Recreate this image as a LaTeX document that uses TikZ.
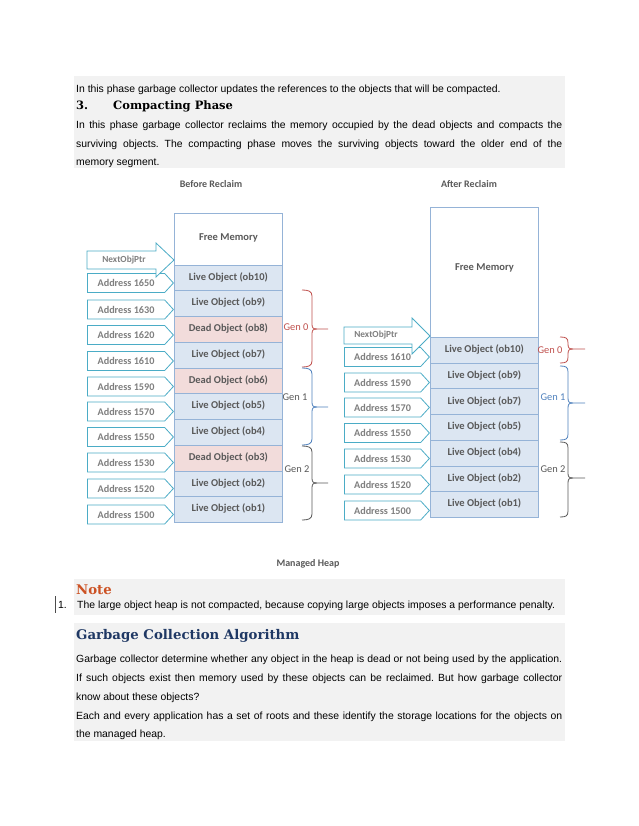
\documentclass[tikz,border=0pt]{standalone}
\usepackage{fontspec}
\setmainfont{Liberation Sans}
\newfontfamily\calfont{Carlito}
\newfontfamily\serfont{DejaVu Serif}
\usetikzlibrary{shapes.symbols}
\definecolor{band}{HTML}{F2F2F2}
\definecolor{live}{HTML}{DCE6F2}
\definecolor{dead}{HTML}{F2DCDB}
\definecolor{colb}{HTML}{95B3D7}
\definecolor{addrline}{HTML}{4BACC6}
\definecolor{txg}{HTML}{595959}
\definecolor{addrg}{HTML}{7F7F7F}
\definecolor{gred}{HTML}{C0504D}
\definecolor{gblue}{HTML}{4F81BD}
\definecolor{notec}{HTML}{CC5224}
\definecolor{headc}{HTML}{1F3864}
\frenchspacing
\newcommand\gbr[7]{% x0 top mid bot color x1 tip
 \draw[#5, line width=0.8pt] (#1,#2) .. controls (#1+6,#2) and (#6,#2+1) .. (#6,#2+6) -- (#6,#3-5)
   .. controls (#6,#3-1) and (#6+1,#3) .. (#6+5,#3) -- (#7,#3);
 \draw[#5, line width=0.8pt] (#6+5,#3) .. controls (#6+1,#3) and (#6,#3+1) .. (#6,#3+5) -- (#6,#4-6)
   .. controls (#6,#4-1) and (#1+6,#4) .. (#1,#4);}
\tikzset{
 body/.style={anchor=base west, inner sep=0, font=\fontsize{10.4}{12}\selectfont, text=black},
 cell/.style={draw=colb, line width=0.8pt, minimum width=108pt, minimum height=25.75pt, inner sep=0,
   font=\calfont\bfseries\fontsize{10.5}{12}\selectfont, text=txg, anchor=north west},
 addr/.style={signal, signal to=east, signal pointer angle=95, draw=addrline, fill=white, line width=0.8pt,
   minimum width=86pt, minimum height=19pt, inner sep=0, font=\calfont\bfseries\fontsize{10.2}{12}\selectfont,
   text=addrg, anchor=west},
 ptrshape/.style={draw=addrline, fill=white, line width=0.8pt},
 ptrtext/.style={font=\calfont\bfseries\fontsize{9.3}{11}\selectfont, text=addrg, inner sep=0},
 gentext/.style={font=\calfont\fontsize{10.4}{12}\selectfont, inner sep=0},
 dtitle/.style={font=\calfont\bfseries\fontsize{10}{12}\selectfont, text=txg, inner sep=0},
 hfont/.style={font=\serfont\bfseries\fontsize{11.5}{14}\selectfont},
 sfont/.style={font=\serfont\bfseries\fontsize{13.3}{16}\selectfont},
}
\begin{document}
\begin{tikzpicture}[x=1pt,y=-1pt]
\useasboundingbox (0,0) rectangle (638,826);
\fill[white] (0,0) rectangle (638,826);
% bands
\fill[band] (74,76) rectangle (565,168);
\fill[band] (74,579) rectangle (565,615);
\fill[band] (74,623) rectangle (565,741);
% top text
\node[body] (t1) at (76,92.5) {In this phase garbage collector updates the references to the objects that will be compacted.};
\node[body, hfont] (h3n) at (76,109.5) {3.};
\node[body, hfont] (h3) at (113,109.5) {Compacting Phase};
\node[body] (p1) at (76,128.5) {\makebox[486pt][s]{In this phase garbage collector reclaims the memory occupied by the dead objects and compacts the}};
\node[body] (p2) at (76,147.5) {\makebox[486pt][s]{surviving objects. The compacting phase moves the surviving objects toward the older end of the}};
\node[body] (p3) at (76,165.5) {memory segment.};
% titles
\node[dtitle] (tb) at (211,184) {Before Reclaim};
\node[dtitle] (ta) at (469,184) {After Reclaim};
\node[dtitle] (tm) at (308,564) {Managed Heap};
% left column
\node[cell, fill=white, minimum height=51.5pt] (Lfree) at (174,213) {\raisebox{5pt}{Free Memory}};
\node[cell, fill=live] (L10) at (174,264.5) {\raisebox{3pt}{Live Object (ob10)}};
\node[cell, fill=live] (L9) at (174,290.25) {\raisebox{3pt}{Live Object (ob9)}};
\node[cell, fill=dead] (L8) at (174,316) {\raisebox{3pt}{Dead Object (ob8)}};
\node[cell, fill=live] (L7) at (174,341.75) {\raisebox{3pt}{Live Object (ob7)}};
\node[cell, fill=dead] (L6) at (174,367.5) {\raisebox{3pt}{Dead Object (ob6)}};
\node[cell, fill=live] (L5) at (174,393.25) {\raisebox{3pt}{Live Object (ob5)}};
\node[cell, fill=live] (L4) at (174,419) {\raisebox{3pt}{Live Object (ob4)}};
\node[cell, fill=dead] (L3) at (174,444.75) {\raisebox{3pt}{Dead Object (ob3)}};
\node[cell, fill=live] (L2) at (174,470.5) {\raisebox{3pt}{Live Object (ob2)}};
\node[cell, fill=live] (L1) at (174,496.25) {\raisebox{3pt}{Live Object (ob1)}};
% left addresses
\node[addr] (a1650) at (87,283) {Address 1650};
\node[addr] (a1630) at (87,309.5) {Address 1630};
\node[addr] (a1620) at (87,335) {Address 1620};
\node[addr] (a1610) at (87,361) {Address 1610};
\node[addr] (a1590) at (87,386.5) {Address 1590};
\node[addr] (a1570) at (87,411.5) {Address 1570};
\node[addr] (a1550) at (87,437) {Address 1550};
\node[addr] (a1530) at (87,462.5) {Address 1530};
\node[addr] (a1520) at (87,488.5) {Address 1520};
\node[addr] (a1500) at (87,514.5) {Address 1500};
% left pointer
\draw[ptrshape] (87,251) -- (156,251) -- (156,243) -- (174,260) -- (156,277) -- (156,269) -- (87,269) -- cycle;
\node[ptrtext] (Lptr) at (124,260) {NextObjPtr};
% left braces
\gbr{302}{290}{329}{367}{gred}{312}{328}
\gbr{302}{368}{407}{445}{gblue}{312}{328}
\gbr{302}{446}{483}{520}{txg}{312}{328}
\node[gentext, text=gred] (lg0) at (296,327) {Gen 0};
\node[gentext, text=txg] (lg1) at (295,397) {Gen 1};
\node[gentext, text=txg] (lg2) at (297,469) {Gen 2};
% right column
\node[cell, fill=white, minimum height=130pt] (Rfree) at (430,207) {\raisebox{10pt}{Free Memory}};
\node[cell, fill=live] (R10) at (430,337) {\raisebox{3pt}{Live Object (ob10)}};
\node[cell, fill=live] (R9) at (430,362.7) {\raisebox{3pt}{Live Object (ob9)}};
\node[cell, fill=live] (R7) at (430,388.4) {\raisebox{3pt}{Live Object (ob7)}};
\node[cell, fill=live] (R5) at (430,414.1) {\raisebox{3pt}{Live Object (ob5)}};
\node[cell, fill=live] (R4) at (430,439.8) {\raisebox{3pt}{Live Object (ob4)}};
\node[cell, fill=live] (R2) at (430,465.5) {\raisebox{3pt}{Live Object (ob2)}};
\node[cell, fill=live] (R1) at (430,491.2) {\raisebox{3pt}{Live Object (ob1)}};
% right addresses
\node[addr, minimum width=85pt] (b1610) at (344,357) {Address 1610};
\node[addr, minimum width=85pt] (b1590) at (344,382.5) {Address 1590};
\node[addr, minimum width=85pt] (b1570) at (344,407.5) {Address 1570};
\node[addr, minimum width=85pt] (b1550) at (344,433) {Address 1550};
\node[addr, minimum width=85pt] (b1530) at (344,458.5) {Address 1530};
\node[addr, minimum width=85pt] (b1520) at (344,484.5) {Address 1520};
\node[addr, minimum width=85pt] (b1500) at (344,510.5) {Address 1500};
% right pointer
\draw[ptrshape] (344,327) -- (412,327) -- (412,318) -- (430,336) -- (412,354) -- (412,344) -- (344,344) -- cycle;
\node[ptrtext] (Rptr) at (376,335.5) {NextObjPtr};
% right braces
\gbr{560}{337}{349}{363}{gred}{568}{585}
\gbr{560}{366}{403}{440}{gblue}{568}{585}
\gbr{560}{442}{478}{517}{txg}{568}{585}
\node[gentext, text=gred] (rg0) at (550,350) {Gen 0};
\node[gentext, text=gblue] (rg1) at (553,397) {Gen 1};
\node[gentext, text=txg] (rg2) at (553,469) {Gen 2};
% note
\node[body, sfont, text=notec] (note) at (76,594.5) {Note};
\draw[black!70, line width=1pt] (55,596) -- (55,613);
\node[body] (n1num) at (58,608.5) {1.};
\node[body] (n1) at (77,608.5) {The large object heap is not compacted, because copying large objects imposes a performance penalty.};
\node[body, sfont, text=headc] (gca) at (76,639.5) {Garbage Collection Algorithm};
\node[body] (q1) at (76,662.5) {\makebox[486pt][s]{Garbage collector determine whether any object in the heap is dead or not being used by the application.}};
\node[body] (q2) at (76,681.5) {\makebox[486pt][s]{If such objects exist then memory used by these objects can be reclaimed. But how garbage collector}};
\node[body] (q3) at (76,700.5) {know about these objects?};
\node[body] (q4) at (76,719.5) {\makebox[486pt][s]{Each and every application has a set of roots and these identify the storage locations for the objects on}};
\node[body] (q5) at (76,737.5) {the managed heap.};
\end{tikzpicture}
\end{document}
